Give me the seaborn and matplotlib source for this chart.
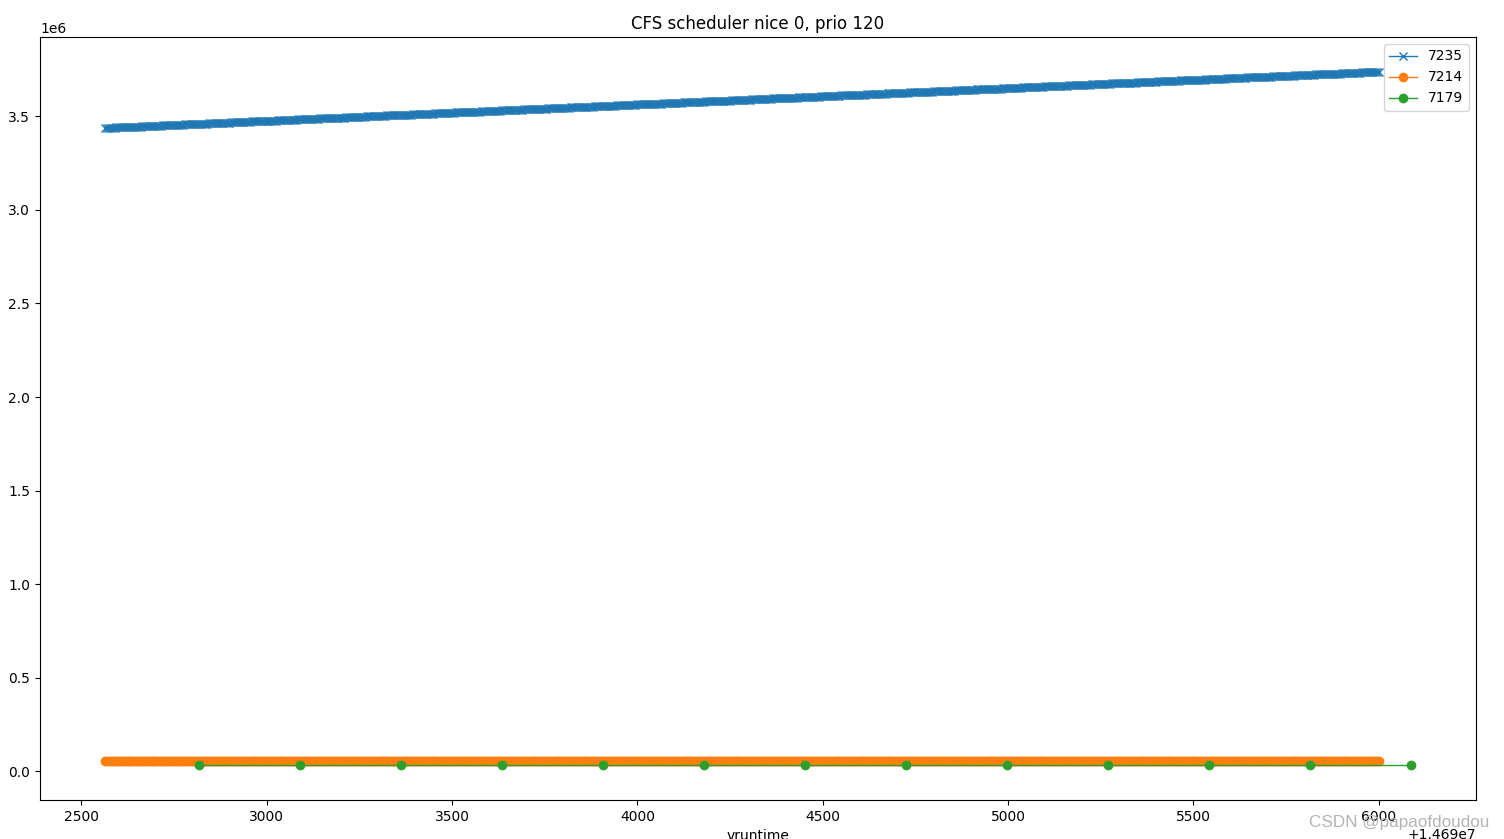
import numpy as np
import pandas as pd
import seaborn as sns
import matplotlib.pyplot as plt

# x axis is shown with a "+1.469e7" offset, values below are relative to it
VRUNTIME_OFFSET = 14690000

# vruntime samples of tasks 7235 and 7214 (relative to offset)
vruntime_dense = [
    2565, 2570, 2575, 2580, 2585, 2590, 2595, 2600, 2605, 2610, 2615, 2620, 2625, 2630, 2635, 2640,
    2645, 2650, 2655, 2660, 2665, 2670, 2675, 2680, 2685, 2690, 2695, 2700, 2705, 2710, 2715, 2720,
    2725, 2730, 2735, 2740, 2745, 2750, 2755, 2760, 2765, 2770, 2775, 2780, 2785, 2790, 2795, 2800,
    2805, 2810, 2815, 2820, 2825, 2830, 2835, 2840, 2845, 2850, 2855, 2860, 2865, 2870, 2875, 2880,
    2885, 2890, 2895, 2900, 2905, 2910, 2915, 2920, 2925, 2930, 2935, 2940, 2945, 2950, 2955, 2960,
    2965, 2970, 2975, 2980, 2985, 2990, 2995, 3000, 3005, 3010, 3015, 3020, 3025, 3030, 3035, 3040,
    3045, 3050, 3055, 3060, 3065, 3070, 3075, 3080, 3085, 3090, 3095, 3100, 3105, 3110, 3115, 3120,
    3125, 3130, 3135, 3140, 3145, 3150, 3155, 3160, 3165, 3170, 3175, 3180, 3185, 3190, 3195, 3200,
    3205, 3210, 3215, 3220, 3225, 3230, 3235, 3240, 3245, 3250, 3255, 3260, 3265, 3270, 3275, 3280,
    3285, 3290, 3295, 3300, 3305, 3310, 3315, 3320, 3325, 3330, 3335, 3340, 3345, 3350, 3355, 3360,
    3365, 3370, 3375, 3380, 3385, 3390, 3395, 3400, 3405, 3410, 3415, 3420, 3425, 3430, 3435, 3440,
    3445, 3450, 3455, 3460, 3465, 3470, 3475, 3480, 3485, 3490, 3495, 3500, 3505, 3510, 3515, 3520,
    3525, 3530, 3535, 3540, 3545, 3550, 3555, 3560, 3565, 3570, 3575, 3580, 3585, 3590, 3595, 3600,
    3605, 3610, 3615, 3620, 3625, 3630, 3635, 3640, 3645, 3650, 3655, 3660, 3665, 3670, 3675, 3680,
    3685, 3690, 3695, 3700, 3705, 3710, 3715, 3720, 3725, 3730, 3735, 3740, 3745, 3750, 3755, 3760,
    3765, 3770, 3775, 3780, 3785, 3790, 3795, 3800, 3805, 3810, 3815, 3820, 3825, 3830, 3835, 3840,
    3845, 3850, 3855, 3860, 3865, 3870, 3875, 3880, 3885, 3890, 3895, 3900, 3905, 3910, 3915, 3920,
    3925, 3930, 3935, 3940, 3945, 3950, 3955, 3960, 3965, 3970, 3975, 3980, 3985, 3990, 3995, 4000,
    4005, 4010, 4015, 4020, 4025, 4030, 4035, 4040, 4045, 4050, 4055, 4060, 4065, 4070, 4075, 4080,
    4085, 4090, 4095, 4100, 4105, 4110, 4115, 4120, 4125, 4130, 4135, 4140, 4145, 4150, 4155, 4160,
    4165, 4170, 4175, 4180, 4185, 4190, 4195, 4200, 4205, 4210, 4215, 4220, 4225, 4230, 4235, 4240,
    4245, 4250, 4255, 4260, 4265, 4270, 4275, 4280, 4285, 4290, 4295, 4300, 4305, 4310, 4315, 4320,
    4325, 4330, 4335, 4340, 4345, 4350, 4355, 4360, 4365, 4370, 4375, 4380, 4385, 4390, 4395, 4400,
    4405, 4410, 4415, 4420, 4425, 4430, 4435, 4440, 4445, 4450, 4455, 4460, 4465, 4470, 4475, 4480,
    4485, 4490, 4495, 4500, 4505, 4510, 4515, 4520, 4525, 4530, 4535, 4540, 4545, 4550, 4555, 4560,
    4565, 4570, 4575, 4580, 4585, 4590, 4595, 4600, 4605, 4610, 4615, 4620, 4625, 4630, 4635, 4640,
    4645, 4650, 4655, 4660, 4665, 4670, 4675, 4680, 4685, 4690, 4695, 4700, 4705, 4710, 4715, 4720,
    4725, 4730, 4735, 4740, 4745, 4750, 4755, 4760, 4765, 4770, 4775, 4780, 4785, 4790, 4795, 4800,
    4805, 4810, 4815, 4820, 4825, 4830, 4835, 4840, 4845, 4850, 4855, 4860, 4865, 4870, 4875, 4880,
    4885, 4890, 4895, 4900, 4905, 4910, 4915, 4920, 4925, 4930, 4935, 4940, 4945, 4950, 4955, 4960,
    4965, 4970, 4975, 4980, 4985, 4990, 4995, 5000, 5005, 5010, 5015, 5020, 5025, 5030, 5035, 5040,
    5045, 5050, 5055, 5060, 5065, 5070, 5075, 5080, 5085, 5090, 5095, 5100, 5105, 5110, 5115, 5120,
    5125, 5130, 5135, 5140, 5145, 5150, 5155, 5160, 5165, 5170, 5175, 5180, 5185, 5190, 5195, 5200,
    5205, 5210, 5215, 5220, 5225, 5230, 5235, 5240, 5245, 5250, 5255, 5260, 5265, 5270, 5275, 5280,
    5285, 5290, 5295, 5300, 5305, 5310, 5315, 5320, 5325, 5330, 5335, 5340, 5345, 5350, 5355, 5360,
    5365, 5370, 5375, 5380, 5385, 5390, 5395, 5400, 5405, 5410, 5415, 5420, 5425, 5430, 5435, 5440,
    5445, 5450, 5455, 5460, 5465, 5470, 5475, 5480, 5485, 5490, 5495, 5500, 5505, 5510, 5515, 5520,
    5525, 5530, 5535, 5540, 5545, 5550, 5555, 5560, 5565, 5570, 5575, 5580, 5585, 5590, 5595, 5600,
    5605, 5610, 5615, 5620, 5625, 5630, 5635, 5640, 5645, 5650, 5655, 5660, 5665, 5670, 5675, 5680,
    5685, 5690, 5695, 5700, 5705, 5710, 5715, 5720, 5725, 5730, 5735, 5740, 5745, 5750, 5755, 5760,
    5765, 5770, 5775, 5780, 5785, 5790, 5795, 5800, 5805, 5810, 5815, 5820, 5825, 5830, 5835, 5840,
    5845, 5850, 5855, 5860, 5865, 5870, 5875, 5880, 5885, 5890, 5895, 5900, 5905, 5910, 5915, 5920,
    5925, 5930, 5935, 5940, 5945, 5950, 5955, 5960, 5965, 5970, 5975, 5980, 5985, 5990, 5995, 6000,
]

# task 7235, in thousands
task_7235_k = [
    3437, 3437, 3438, 3438, 3439, 3439, 3440, 3440, 3441, 3441, 3441, 3442, 3442, 3443, 3443, 3444,
    3444, 3444, 3445, 3445, 3446, 3446, 3447, 3447, 3448, 3448, 3448, 3449, 3449, 3450, 3450, 3451,
    3451, 3451, 3452, 3452, 3453, 3453, 3454, 3454, 3455, 3455, 3455, 3456, 3456, 3457, 3457, 3458,
    3458, 3458, 3459, 3459, 3460, 3460, 3461, 3461, 3462, 3462, 3462, 3463, 3463, 3464, 3464, 3465,
    3465, 3465, 3466, 3466, 3467, 3467, 3468, 3468, 3469, 3469, 3469, 3470, 3470, 3471, 3471, 3472,
    3472, 3472, 3473, 3473, 3474, 3474, 3475, 3475, 3476, 3476, 3476, 3477, 3477, 3478, 3478, 3479,
    3479, 3479, 3480, 3480, 3481, 3481, 3482, 3482, 3483, 3483, 3483, 3484, 3484, 3485, 3485, 3486,
    3486, 3486, 3487, 3487, 3488, 3488, 3489, 3489, 3490, 3490, 3490, 3491, 3491, 3492, 3492, 3493,
    3493, 3493, 3494, 3494, 3495, 3495, 3496, 3496, 3497, 3497, 3497, 3498, 3498, 3499, 3499, 3500,
    3500, 3500, 3501, 3501, 3502, 3502, 3503, 3503, 3504, 3504, 3504, 3505, 3505, 3506, 3506, 3507,
    3507, 3507, 3508, 3508, 3509, 3509, 3510, 3510, 3511, 3511, 3511, 3512, 3512, 3513, 3513, 3514,
    3514, 3514, 3515, 3515, 3516, 3516, 3517, 3517, 3518, 3518, 3518, 3519, 3519, 3520, 3520, 3521,
    3521, 3521, 3522, 3522, 3523, 3523, 3524, 3524, 3525, 3525, 3525, 3526, 3526, 3527, 3527, 3528,
    3528, 3528, 3529, 3529, 3530, 3530, 3531, 3531, 3532, 3532, 3532, 3533, 3533, 3534, 3534, 3535,
    3535, 3535, 3536, 3536, 3537, 3537, 3538, 3538, 3539, 3539, 3539, 3540, 3540, 3541, 3541, 3542,
    3542, 3542, 3543, 3543, 3544, 3544, 3545, 3545, 3546, 3546, 3546, 3547, 3547, 3548, 3548, 3549,
    3549, 3549, 3550, 3550, 3551, 3551, 3552, 3552, 3553, 3553, 3553, 3554, 3554, 3555, 3555, 3556,
    3556, 3556, 3557, 3557, 3558, 3558, 3559, 3559, 3560, 3560, 3560, 3561, 3561, 3562, 3562, 3563,
    3563, 3563, 3564, 3564, 3565, 3565, 3566, 3566, 3567, 3567, 3567, 3568, 3568, 3569, 3569, 3570,
    3570, 3570, 3571, 3571, 3572, 3572, 3573, 3573, 3574, 3574, 3574, 3575, 3575, 3576, 3576, 3577,
    3577, 3577, 3578, 3578, 3579, 3579, 3580, 3580, 3581, 3581, 3581, 3582, 3582, 3583, 3583, 3584,
    3584, 3584, 3585, 3585, 3586, 3586, 3587, 3587, 3588, 3588, 3588, 3589, 3589, 3590, 3590, 3591,
    3591, 3591, 3592, 3592, 3593, 3593, 3594, 3594, 3595, 3595, 3595, 3596, 3596, 3597, 3597, 3598,
    3598, 3598, 3599, 3599, 3600, 3600, 3601, 3601, 3602, 3602, 3602, 3603, 3603, 3604, 3604, 3605,
    3605, 3605, 3606, 3606, 3607, 3607, 3608, 3608, 3609, 3609, 3609, 3610, 3610, 3611, 3611, 3612,
    3612, 3612, 3613, 3613, 3614, 3614, 3615, 3615, 3616, 3616, 3616, 3617, 3617, 3618, 3618, 3619,
    3619, 3619, 3620, 3620, 3621, 3621, 3622, 3622, 3623, 3623, 3623, 3624, 3624, 3625, 3625, 3626,
    3626, 3626, 3627, 3627, 3628, 3628, 3629, 3629, 3630, 3630, 3630, 3631, 3631, 3632, 3632, 3633,
    3633, 3633, 3634, 3634, 3635, 3635, 3636, 3636, 3637, 3637, 3637, 3638, 3638, 3639, 3639, 3640,
    3640, 3640, 3641, 3641, 3642, 3642, 3643, 3643, 3644, 3644, 3644, 3645, 3645, 3646, 3646, 3647,
    3647, 3647, 3648, 3648, 3649, 3649, 3650, 3650, 3651, 3651, 3651, 3652, 3652, 3653, 3653, 3654,
    3654, 3654, 3655, 3655, 3656, 3656, 3657, 3657, 3658, 3658, 3658, 3659, 3659, 3660, 3660, 3661,
    3661, 3661, 3662, 3662, 3663, 3663, 3664, 3664, 3665, 3665, 3665, 3666, 3666, 3667, 3667, 3668,
    3668, 3668, 3669, 3669, 3670, 3670, 3671, 3671, 3672, 3672, 3672, 3673, 3673, 3674, 3674, 3675,
    3675, 3675, 3676, 3676, 3677, 3677, 3678, 3678, 3679, 3679, 3679, 3680, 3680, 3681, 3681, 3682,
    3682, 3682, 3683, 3683, 3684, 3684, 3685, 3685, 3686, 3686, 3686, 3687, 3687, 3688, 3688, 3689,
    3689, 3689, 3690, 3690, 3691, 3691, 3692, 3692, 3693, 3693, 3693, 3694, 3694, 3695, 3695, 3696,
    3696, 3696, 3697, 3697, 3698, 3698, 3699, 3699, 3700, 3700, 3700, 3701, 3701, 3702, 3702, 3703,
    3703, 3703, 3704, 3704, 3705, 3705, 3706, 3706, 3707, 3707, 3707, 3708, 3708, 3709, 3709, 3710,
    3710, 3710, 3711, 3711, 3712, 3712, 3713, 3713, 3714, 3714, 3714, 3715, 3715, 3716, 3716, 3717,
    3717, 3717, 3718, 3718, 3719, 3719, 3720, 3720, 3721, 3721, 3721, 3722, 3722, 3723, 3723, 3724,
    3724, 3724, 3725, 3725, 3726, 3726, 3727, 3727, 3728, 3728, 3728, 3729, 3729, 3730, 3730, 3731,
    3731, 3731, 3732, 3732, 3733, 3733, 3734, 3734, 3735, 3735, 3735, 3736, 3736, 3737, 3737, 3738,
]

# task 7214, in thousands
task_7214_k = [
    54, 54, 54, 54, 54, 54, 54, 54, 54, 54, 54, 54, 54, 54, 54, 54,
    54, 54, 54, 54, 54, 54, 54, 54, 54, 54, 54, 54, 54, 54, 54, 54,
    54, 54, 54, 54, 54, 54, 54, 54, 54, 54, 54, 54, 54, 54, 54, 54,
    54, 54, 54, 54, 54, 54, 54, 54, 54, 54, 54, 54, 54, 54, 54, 54,
    54, 54, 54, 54, 54, 54, 54, 54, 54, 54, 54, 54, 54, 54, 54, 54,
    54, 54, 54, 54, 54, 54, 54, 54, 54, 54, 54, 54, 54, 54, 54, 54,
    54, 54, 54, 54, 54, 54, 54, 54, 54, 54, 54, 54, 54, 54, 54, 54,
    54, 54, 54, 54, 54, 54, 54, 54, 54, 54, 54, 54, 54, 54, 54, 54,
    54, 54, 54, 54, 54, 54, 54, 54, 54, 54, 54, 54, 54, 54, 54, 54,
    54, 54, 54, 54, 54, 54, 54, 54, 54, 54, 54, 54, 54, 54, 54, 54,
    54, 54, 54, 54, 54, 54, 54, 54, 54, 54, 54, 54, 54, 54, 54, 54,
    54, 54, 54, 54, 54, 54, 54, 54, 54, 54, 54, 54, 54, 54, 54, 54,
    54, 54, 54, 54, 54, 54, 54, 54, 54, 54, 54, 54, 54, 54, 54, 54,
    54, 54, 54, 54, 54, 54, 54, 54, 54, 54, 54, 54, 54, 54, 54, 54,
    54, 54, 54, 54, 54, 54, 54, 54, 54, 54, 54, 54, 54, 54, 54, 54,
    54, 54, 54, 54, 54, 54, 54, 54, 54, 54, 54, 54, 54, 54, 54, 54,
    54, 54, 54, 54, 54, 54, 54, 54, 54, 54, 54, 54, 54, 54, 54, 54,
    54, 54, 54, 54, 54, 54, 54, 54, 54, 54, 54, 54, 54, 54, 54, 54,
    54, 54, 54, 54, 54, 54, 54, 54, 54, 54, 54, 54, 54, 54, 54, 54,
    54, 54, 54, 54, 54, 54, 54, 54, 54, 54, 54, 54, 54, 54, 54, 54,
    54, 54, 54, 54, 54, 54, 54, 54, 54, 54, 54, 54, 54, 54, 54, 54,
    54, 54, 54, 54, 54, 54, 54, 54, 54, 54, 54, 54, 54, 54, 54, 54,
    54, 54, 54, 54, 54, 54, 54, 54, 54, 54, 54, 54, 54, 54, 54, 54,
    54, 54, 54, 54, 54, 54, 54, 54, 54, 54, 54, 54, 54, 54, 54, 54,
    54, 54, 54, 54, 54, 54, 54, 54, 54, 54, 54, 54, 54, 54, 54, 54,
    54, 54, 54, 54, 54, 54, 54, 54, 54, 54, 54, 54, 54, 54, 54, 54,
    54, 54, 54, 54, 54, 54, 54, 54, 54, 54, 54, 54, 54, 54, 54, 54,
    54, 54, 54, 54, 54, 54, 54, 54, 54, 54, 54, 54, 54, 54, 54, 54,
    54, 54, 54, 54, 54, 54, 54, 54, 54, 54, 54, 54, 54, 54, 54, 54,
    54, 54, 54, 54, 54, 54, 54, 54, 54, 54, 54, 54, 54, 54, 54, 54,
    54, 54, 54, 54, 54, 54, 54, 54, 54, 54, 54, 54, 54, 54, 54, 54,
    54, 54, 54, 54, 54, 54, 54, 54, 54, 54, 54, 54, 54, 54, 54, 54,
    54, 54, 54, 54, 54, 54, 54, 54, 54, 54, 54, 54, 54, 54, 54, 54,
    54, 54, 54, 54, 54, 54, 54, 54, 54, 54, 54, 54, 54, 54, 54, 54,
    54, 54, 54, 54, 54, 54, 54, 54, 54, 54, 54, 54, 54, 54, 54, 54,
    54, 54, 54, 54, 54, 54, 54, 54, 54, 54, 54, 54, 54, 54, 54, 54,
    54, 54, 54, 54, 54, 54, 54, 54, 54, 54, 54, 54, 54, 54, 54, 54,
    54, 54, 54, 54, 54, 54, 54, 54, 54, 54, 54, 54, 54, 54, 54, 54,
    54, 54, 54, 54, 54, 54, 54, 54, 54, 54, 54, 54, 54, 54, 54, 54,
    54, 54, 54, 54, 54, 54, 54, 54, 54, 54, 54, 54, 54, 54, 54, 54,
    54, 54, 54, 54, 54, 54, 54, 54, 54, 54, 54, 54, 54, 54, 54, 54,
    54, 54, 54, 54, 54, 54, 54, 54, 54, 54, 54, 54, 54, 54, 54, 54,
    54, 54, 54, 54, 54, 54, 54, 54, 54, 54, 54, 54, 54, 54, 54, 54,
]

# task 7179: sparse samples
vruntime_7179 = [2818, 3090, 3362, 3635, 3907, 4180, 4452,
                 4724, 4997, 5269, 5541, 5814, 6086]
task_7179_k = [33, 33, 33, 33, 33, 33, 33, 33, 33, 33, 33, 33, 33]

task_labels = ["7235", "7214", "7179"]
task_markers = ["x", "o", "o"]

fig, ax = plt.subplots(figsize=(15.04, 8.39), dpi=100)
colors = sns.color_palette("tab10", 3)

series = [(vruntime_dense, task_7235_k),
          (vruntime_dense, task_7214_k),
          (vruntime_7179, task_7179_k)]

for (xs, ys), label, mk, c in zip(series, task_labels, task_markers, colors):
    df = pd.DataFrame({"vruntime": np.array(xs) + VRUNTIME_OFFSET,
                       "value": np.array(ys) * 1000})
    sns.lineplot(data=df, x="vruntime", y="value", ax=ax, color=c,
                 marker=mk, markersize=6, markeredgewidth=1,
                 markeredgecolor=c, linewidth=1, label=label,
                 errorbar=None)

ax.set_title("CFS scheduler nice 0, prio 120")
ax.set_xlabel("vruntime")
ax.set_ylabel("")
ax.legend(loc="upper right")

fig.subplots_adjust(left=0.0266, right=0.9814, bottom=0.0465, top=0.9559)

fig.text(0.990, 0.020, "CSDN @papaofdoudou", ha="right", va="center",
         color="#b4b4b4", fontsize=12.3, family="Liberation Sans")

fig.savefig("out.png", dpi=100)
